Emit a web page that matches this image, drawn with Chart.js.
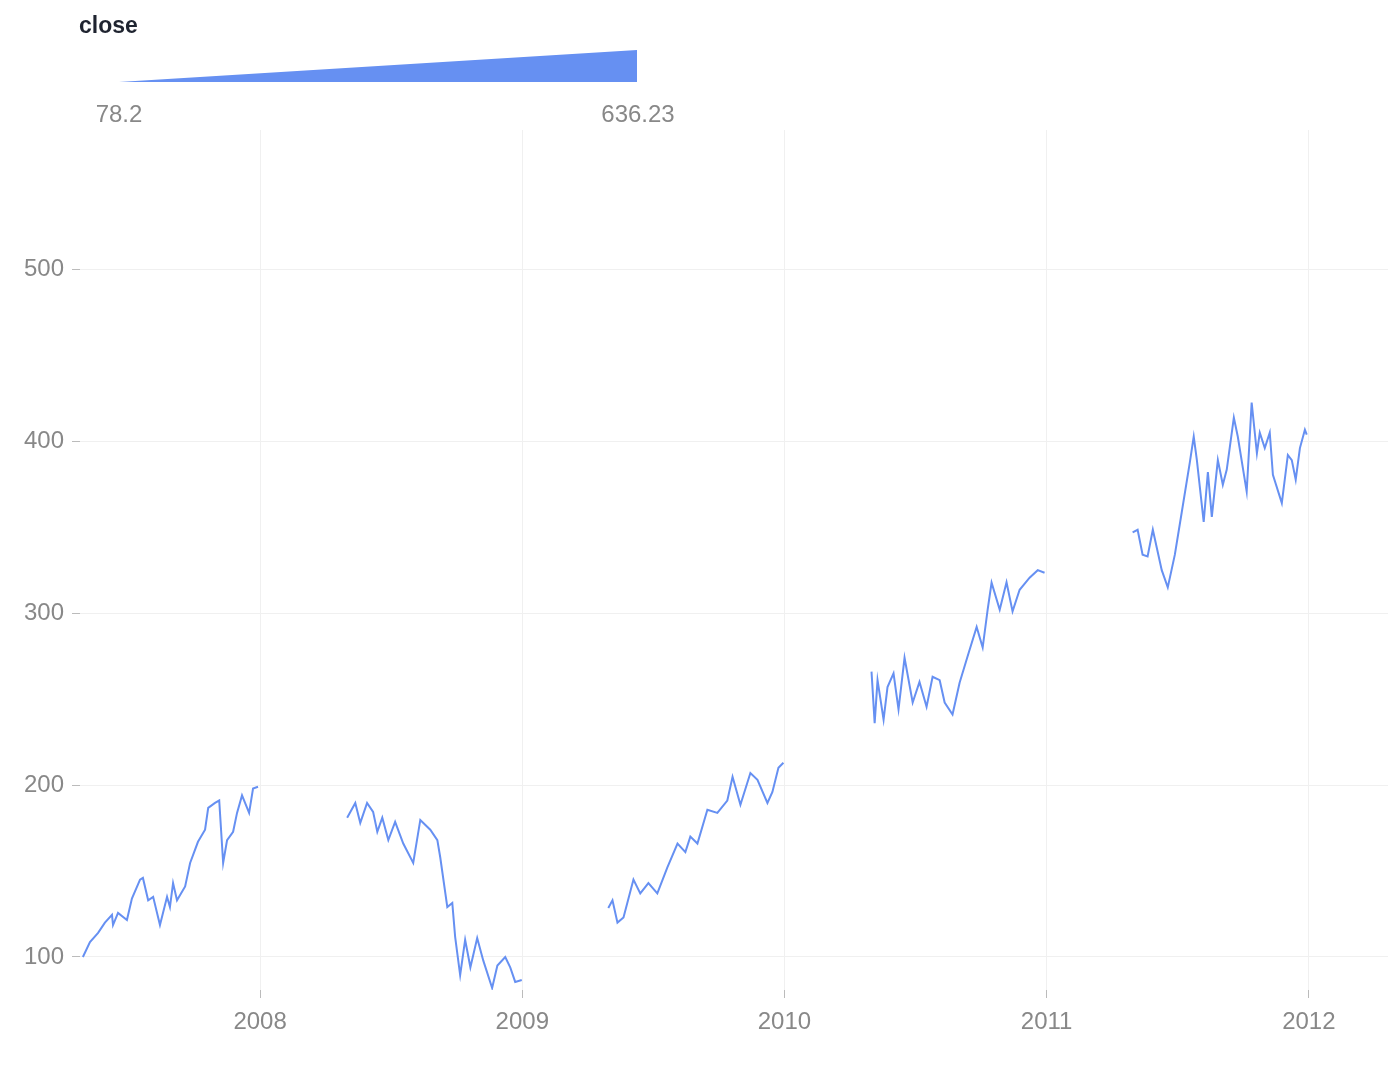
<!DOCTYPE html>
<html>
<head>
<meta charset="utf-8">
<script src="https://cdn.jsdelivr.net/npm/chart.js@4"></script>
<style>
  html, body { margin: 0; padding: 0; background: #fff; }
  #wrap { width: 1388px; height: 1092px; position: relative; }
</style>
</head>
<body>
<div id="wrap"><canvas id="chart"></canvas></div>
<script>
// close price, one array pair per year (dates as decimal years)
const dates2007 = [2007.324, 2007.351, 2007.382, 2007.408, 2007.435, 2007.439, 2007.458, 2007.492, 2007.511, 2007.542, 2007.553, 2007.573, 2007.592, 2007.618, 2007.645, 2007.656, 2007.668, 2007.683, 2007.714, 2007.733, 2007.763, 2007.790, 2007.802, 2007.828, 2007.844, 2007.859, 2007.874, 2007.897, 2007.912, 2007.931, 2007.958, 2007.973, 2007.992];
const close2007 = [100, 108.7, 114, 120, 124.5, 118.6, 125.6, 121.5, 134, 145, 146, 133, 135, 118.6, 135, 129, 143, 133, 141, 154.7, 167, 174, 186.7, 189.6, 191, 154.7, 168, 172.8, 183.8, 194, 183.8, 198, 199];

const dates2008 = [2008.332, 2008.363, 2008.382, 2008.408, 2008.431, 2008.447, 2008.466, 2008.489, 2008.515, 2008.546, 2008.584, 2008.611, 2008.649, 2008.676, 2008.687, 2008.714, 2008.733, 2008.744, 2008.763, 2008.782, 2008.802, 2008.828, 2008.851, 2008.885, 2008.905, 2008.935, 2008.954, 2008.973, 2008.998];
const close2008 = [181, 189.6, 178, 189.6, 184.4, 172.8, 181, 168, 178.6, 166, 154.7, 179.7, 174, 168, 158, 129, 131.4, 111.6, 89.5, 110, 94, 111, 98, 82, 95, 100, 94, 85.5, 86.6];

const dates2009 = [2009.328, 2009.344, 2009.363, 2009.386, 2009.424, 2009.450, 2009.481, 2009.515, 2009.553, 2009.592, 2009.622, 2009.641, 2009.668, 2009.706, 2009.744, 2009.782, 2009.802, 2009.832, 2009.870, 2009.897, 2009.935, 2009.954, 2009.977, 2009.996];
const close2009 = [128.5, 133, 120, 123, 145, 137, 143, 137, 152, 166, 161, 170, 166, 185.6, 183.8, 191, 204.8, 188.5, 207, 203, 189.6, 196, 210, 213];

const dates2010 = [2010.332, 2010.344, 2010.355, 2010.378, 2010.393, 2010.416, 2010.435, 2010.458, 2010.489, 2010.515, 2010.542, 2010.565, 2010.592, 2010.611, 2010.641, 2010.668, 2010.698, 2010.733, 2010.756, 2010.775, 2010.790, 2010.821, 2010.847, 2010.870, 2010.897, 2010.935, 2010.966, 2010.992];
const close2010 = [266, 236, 261, 238, 257, 265, 244, 274, 248, 260, 245.5, 263, 261, 248, 241, 259.5, 274.6, 292, 280, 302, 317.7, 302, 318, 301, 313.6, 320.6, 325, 323.5];

const dates2011 = [2011.328, 2011.347, 2011.366, 2011.385, 2011.405, 2011.439, 2011.462, 2011.489, 2011.515, 2011.546, 2011.561, 2011.573, 2011.599, 2011.615, 2011.630, 2011.653, 2011.672, 2011.687, 2011.714, 2011.729, 2011.763, 2011.782, 2011.802, 2011.813, 2011.832, 2011.851, 2011.863, 2011.897, 2011.920, 2011.935, 2011.950, 2011.966, 2011.985, 2011.992];
const close2011 = [347, 348.5, 334, 333, 348.5, 325, 315, 334, 358.4, 387.5, 402.7, 389, 353, 382, 356, 389, 374.7, 383.5, 413.7, 402.7, 370.7, 422.5, 393, 405, 396, 405, 380.5, 364, 392, 389, 377.6, 396, 406.7, 403.8];

const yearTicks = [2008, 2009, 2010, 2011, 2012];
const valueTicks = [100, 200, 300, 400, 500];
const legendMin = 78.2;
const legendMax = 636.23;

const lineColor = '#6690F2';
const fontFamily = '"Liberation Sans", Arial, sans-serif';
const segments = [
  [dates2007, close2007], [dates2008, close2008], [dates2009, close2009],
  [dates2010, close2010], [dates2011, close2011]
];

const datasets = segments.map(([d, v]) => ({
  label: 'close',
  data: d.map((x, i) => ({ x: x, y: v[i] })),
  borderColor: lineColor,
  borderWidth: 2,
  pointRadius: 0,
  tension: 0
}));

// size legend drawn above the plot
const sizeLegend = {
  id: 'sizeLegend',
  afterDraw(chart) {
    const ctx = chart.ctx;
    ctx.save();
    ctx.fillStyle = '#1f2430';
    ctx.font = 'bold 23px ' + fontFamily;
    ctx.textBaseline = 'middle';
    ctx.fillText('close', 79, 27);
    ctx.fillStyle = lineColor;
    ctx.beginPath();
    ctx.moveTo(119, 82);
    ctx.lineTo(637, 50);
    ctx.lineTo(637, 82);
    ctx.closePath();
    ctx.fill();
    ctx.fillStyle = '#888';
    ctx.font = '24px ' + fontFamily;
    ctx.textAlign = 'center';
    ctx.fillText(String(legendMin), 119, 115);
    ctx.fillText(String(legendMax), 638, 115);
    ctx.restore();
  }
};

new Chart(document.getElementById('chart'), {
  type: 'line',
  data: { datasets },
  plugins: [sizeLegend],
  options: {
    responsive: true,
    maintainAspectRatio: false,
    animation: false,
    layout: { padding: { top: 130, right: 0, left: 0, bottom: 0 } },
    plugins: { legend: { display: false }, tooltip: { enabled: false } },
    scales: {
      x: {
        type: 'linear',
        min: 2007.313,
        max: 2012.302,
        afterBuildTicks: (axis) => { axis.ticks = yearTicks.map(v => ({ value: v })); },
        afterFit: (axis) => { axis.height = 102; },
        ticks: {
          color: '#888',
          font: { size: 24, family: fontFamily },
          padding: 10,
          maxRotation: 0,
          callback: v => String(v)
        },
        grid: { color: '#f0f0f0', tickColor: '#bbb', tickLength: 8 },
        border: { display: false }
      },
      y: {
        min: 80.8,
        max: 581,
        afterBuildTicks: (axis) => { axis.ticks = valueTicks.map(v => ({ value: v })); },
        afterFit: (axis) => { axis.width = 80; },
        ticks: {
          color: '#888',
          font: { size: 24, family: fontFamily },
          padding: 8
        },
        grid: { color: '#f0f0f0', tickColor: '#bbb', tickLength: 8 },
        border: { display: false }
      }
    }
  }
});
</script>
</body>
</html>
